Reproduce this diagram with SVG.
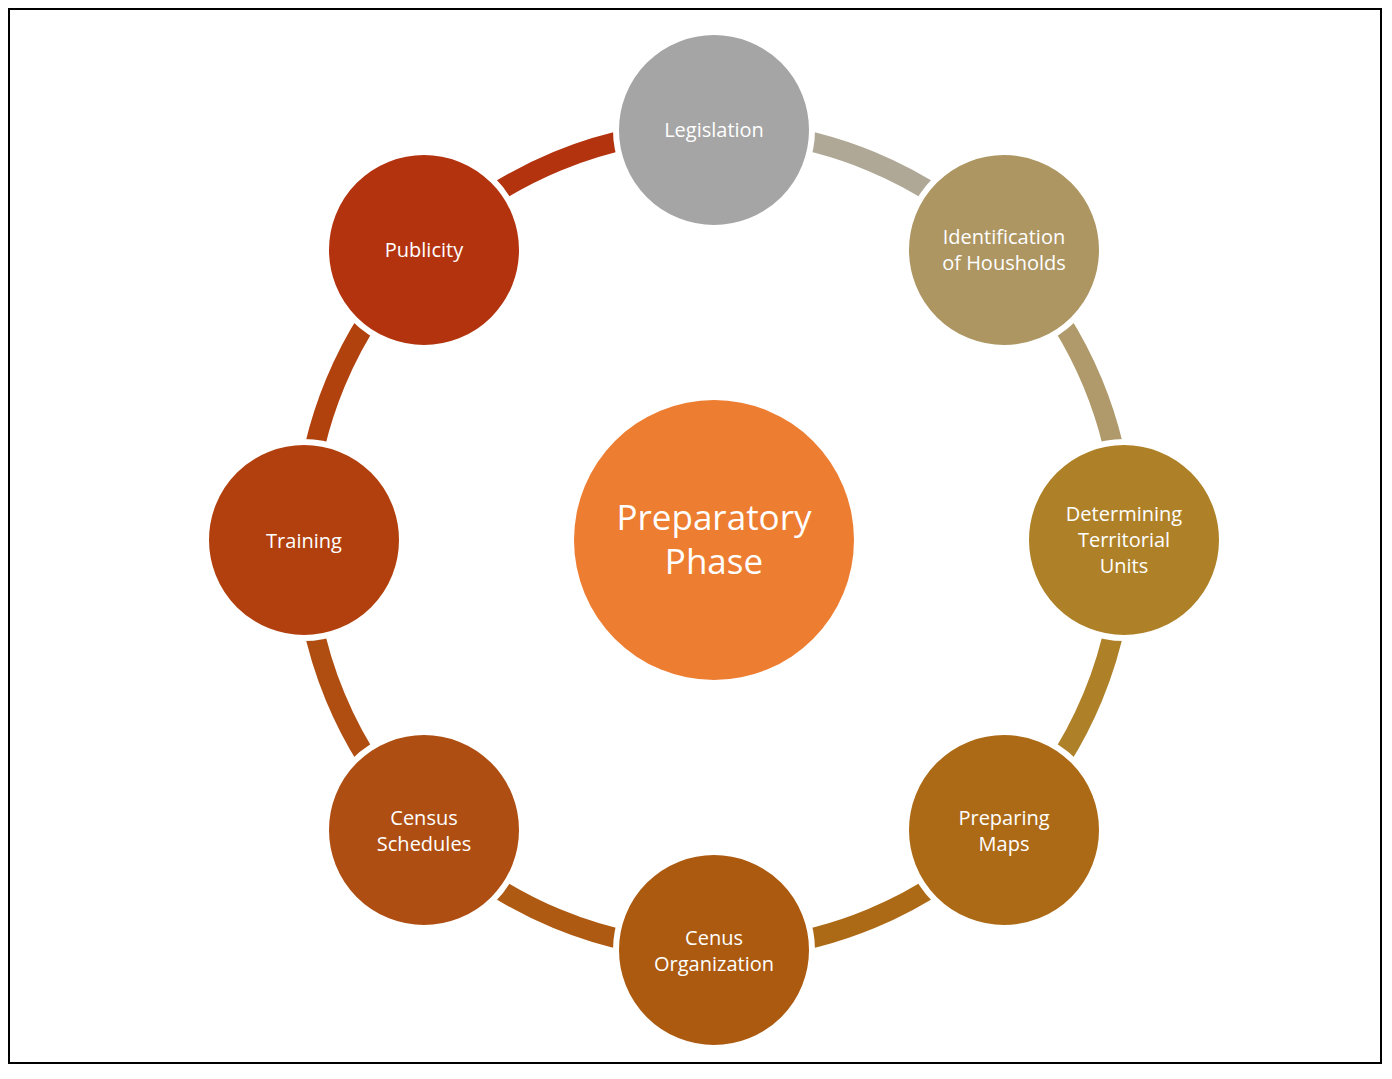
<svg xmlns="http://www.w3.org/2000/svg" width="1392" height="1079" viewBox="0 0 1392 1079">
<style>
.seg{fill:none;stroke-width:20}
.node{stroke:#fff;stroke-width:6}
.t{fill:#fff;font-family:"Open Sans","Liberation Sans",sans-serif;font-size:20px;text-anchor:middle}
</style>
<rect x="0" y="0" width="1392" height="1079" fill="#fff"/>
<rect x="9" y="9" width="1372" height="1054" fill="none" stroke="#000" stroke-width="2"/>
<g id="connectors">
<path class="seg" stroke="#B0A896" d="M714,130 A410,410 0 0 1 1003.9,250.1"/>
<path class="seg" stroke="#B0996A" d="M1003.9,250.1 A410,410 0 0 1 1124,540"/>
<path class="seg" stroke="#AE8128" d="M1124,540 A410,410 0 0 1 1003.9,829.9"/>
<path class="seg" stroke="#AD6A16" d="M1003.9,829.9 A410,410 0 0 1 714,950"/>
<path class="seg" stroke="#AE5A12" d="M714,950 A410,410 0 0 1 424.1,829.9"/>
<path class="seg" stroke="#B04E12" d="M424.1,829.9 A410,410 0 0 1 304,540"/>
<path class="seg" stroke="#B1420E" d="M304,540 A410,410 0 0 1 424.1,250.1"/>
<path class="seg" stroke="#B3330F" d="M424.1,250.1 A410,410 0 0 1 714,130"/>
</g>
<g id="center"><circle cx="714" cy="540" r="140" fill="#ED7D31"/>
<text class="t" style="font-size:35px" x="714" y="530">Preparatory</text>
<text class="t" style="font-size:35px" x="714" y="574">Phase</text></g>
<g id="n0"><circle class="node" cx="714" cy="130" r="98" fill="#A5A5A5"/><text class="t" x="714" y="137">Legislation</text></g>
<g id="n1"><circle class="node" cx="1004" cy="250" r="98" fill="#AD9662"/><text class="t" x="1004" y="244">Identification</text><text class="t" x="1004" y="270">of Housholds</text></g>
<g id="n2"><circle class="node" cx="1124" cy="540" r="98" fill="#AE8128"/><text class="t" x="1124" y="521">Determining</text><text class="t" x="1124" y="547">Territorial</text><text class="t" x="1124" y="573">Units</text></g>
<g id="n3"><circle class="node" cx="1004" cy="830" r="98" fill="#AC6A17"/><text class="t" x="1004" y="825">Preparing</text><text class="t" x="1004" y="851">Maps</text></g>
<g id="n4"><circle class="node" cx="714" cy="950" r="98" fill="#AC5A10"/><text class="t" x="714" y="945">Cenus</text><text class="t" x="714" y="971">Organization</text></g>
<g id="n5"><circle class="node" cx="424" cy="830" r="98" fill="#AE4E12"/><text class="t" x="424" y="825">Census</text><text class="t" x="424" y="851">Schedules</text></g>
<g id="n6"><circle class="node" cx="304" cy="540" r="98" fill="#B1400E"/><text class="t" x="304" y="548">Training</text></g>
<g id="n7"><circle class="node" cx="424" cy="250" r="98" fill="#B3330F"/><text class="t" x="424" y="257">Publicity</text></g>
</svg>
